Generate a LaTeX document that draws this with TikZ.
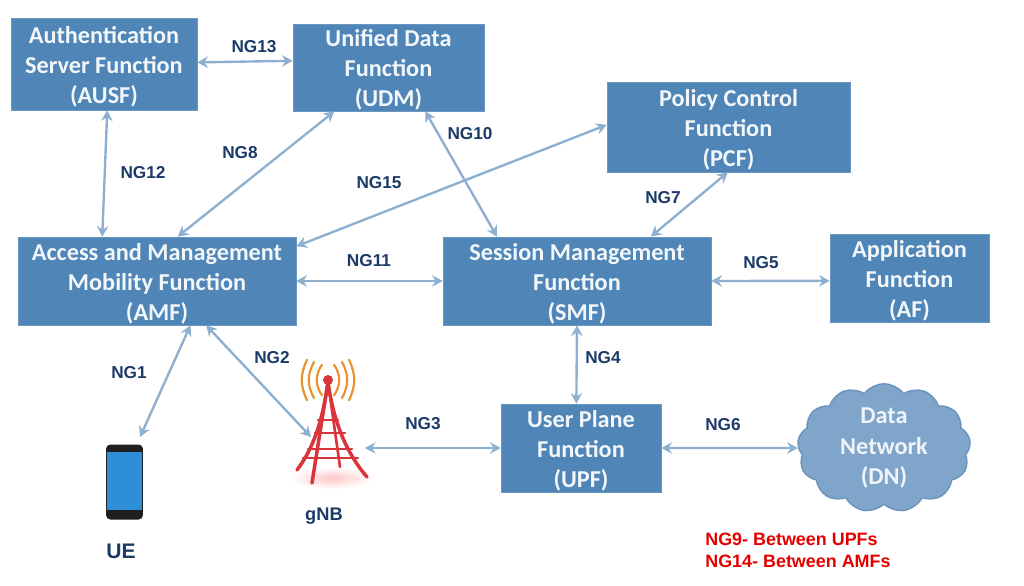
\documentclass[tikz,border=0pt]{standalone}
\usepackage{fontspec}
\setmainfont{Carlito}
\newfontfamily\labelfont{Liberation Sans}
\usetikzlibrary{arrows.meta,shapes.symbols}
\definecolor{boxblue}{HTML}{4F85B7}
\definecolor{linkblue}{HTML}{8DB0D0}
\definecolor{labelblue}{HTML}{1B3A68}
\definecolor{cloudblue}{HTML}{7FA5CB}
\definecolor{cloudline}{HTML}{6B94BC}
\definecolor{towerred}{HTML}{D9343C}
\definecolor{waveorange}{HTML}{E8922E}
\definecolor{screenblue}{HTML}{2E8FD8}
\newcommand{\topgap}{\rule{0pt}{12.4pt}}
\tikzset{
    nf/.style={fill=boxblue, draw=boxblue!85!white, line width=0.4pt, text=white!93!boxblue, align=center,
        inner sep=0pt, font=\bfseries\fontsize{13.8}{17.1}\selectfont},
    link/.style={draw=linkblue, line width=1.35pt, {Stealth[length=6pt,width=6.5pt]}-{Stealth[length=6pt,width=6.5pt]}},
    ng/.style={text=labelblue, font=\labelfont\bfseries\fontsize{9.8}{11}\selectfont},
    note/.style={text=red!90!black, anchor=west, font=\labelfont\bfseries\fontsize{10.2}{12}\selectfont},
    mast/.style={draw=towerred, line width=2pt, line cap=round},
    wave/.style={draw=waveorange, line width=1.2pt, line cap=round},
}
\begin{document}
\begin{tikzpicture}[x=0.02cm, y=-0.02cm]
    \useasboundingbox (0,0) rectangle (1024,585);
    % boxes
    \node[nf, minimum width=3.72cm, minimum height=1.84cm] (ausf) at (104,64) {\topgap Authentication\\Server Function\\(AUSF)};
    \node[nf, minimum width=3.82cm, minimum height=1.74cm] (udm) at (388.5,67.5) {\topgap Unified Data\\Function\\(UDM)};
    \node[nf, minimum width=4.86cm, minimum height=1.80cm] (pcf) at (728.5,127) {\topgap Policy Control\\Function\\(PCF)};
    \node[nf, minimum width=5.56cm, minimum height=1.76cm] (amf) at (157,281) {\topgap Access and Management\\Mobility Function\\(AMF)};
    \node[nf, minimum width=5.36cm, minimum height=1.76cm] (smf) at (577,281) {\topgap Session Management\\Function\\(SMF)};
    \node[nf, minimum width=3.18cm, minimum height=1.76cm] (af) at (909.5,278) {\topgap Application\\Function\\(AF)};
    \node[nf, minimum width=3.20cm, minimum height=1.76cm] (upf) at (581,448) {\topgap User Plane\\Function\\(UPF)};
    \node[cloud, cloud puffs=13, cloud puff arc=105, aspect=1.45, fill=cloudblue, draw=cloudline, line width=0.8pt,
        minimum width=3.46cm, minimum height=2.4cm, inner sep=0pt, align=center, text=white!88!cloudblue,
        font=\bfseries\fontsize{13.8}{17.1}\selectfont] (dn) at (884,448) {Data\\Network\\(DN)};
    % phone
    \node[fill=black!88, rounded corners=2.5pt, minimum width=0.74cm, minimum height=1.50cm, inner sep=0pt] (ue) at (124.5,482) {};
    \node[fill=screenblue, minimum width=0.70cm, minimum height=1.16cm, inner sep=0pt] (uescreen) at (124.5,481) {};
    \node[text=labelblue, font=\labelfont\bfseries\fontsize{12}{14}\selectfont] (uelabel) at (121,551) {UE};
    % tower
    \shade[inner color=red!22, outer color=white] (332,478) ellipse (42 and 11);
    \draw[mast] (328,382) .. controls (322,425) and (312,450) .. (297,470);
    \draw[mast] (328,382) .. controls (334,425) and (348,455) .. (367,477);
    \draw[mast] (328,382) -- (312,483);
    \draw[mast, line width=1.5pt] (328,382) -- (340,467);
    \foreach \yy/\xa/\xb in {420/318/338, 433/315/345, 449/308/352, 458/303/358}
        \draw[mast, line width=1.5pt] (\xa,\yy) -- (\xb,\yy);
    \fill[towerred] (328,380) circle (5);
    \foreach \dd in {10,18,25} {
        \draw[wave] (328-\dd+4,380-12-\dd/3) .. controls (328-\dd-3,380-5) and (328-\dd-3,380+5) .. (328-\dd+4,380+12+\dd/3);
        \draw[wave] (328+\dd-4,380-12-\dd/3) .. controls (328+\dd+3,380-5) and (328+\dd+3,380+5) .. (328+\dd-4,380+12+\dd/3);
    }
    \node[ng, font=\labelfont\bfseries\fontsize{10.4}{12}\selectfont] (gnblabel) at (324,516) {gNB};
    \coordinate (uetop) at (140,437);
    \coordinate (gnbtop) at (311,437);
    \coordinate (gnbeast) at (365,448);
    % links
    \draw[link] (ausf.1) -- (udm.176.7);
    \draw[link] (ausf.-86) -- (amf.141.3);
    \draw[link] (udm.219.1) -- (amf.65.6);
    \draw[link] (udm.-50) -- (smf.151.8);
    \draw[link] (pcf.179.1) -- (amf.14.5);
    \draw[link] (pcf.-91.9) -- (smf.31.1);
    \draw[link] (amf.east) -- (smf.west);
    \draw[link] (smf.east) -- (af.182.2);
    \draw[link] (smf.south) -- (upf.96.5);
    \draw[link] (amf.-53.1) -- (uetop);
    \draw[link] (amf.-42.5) -- (gnbtop);
    \draw[link] (gnbeast) -- (upf.west);
    \draw[link] (upf.east) -- (dn.west);
    % labels
    \node[ng] (ng13) at (254,47) {NG13};
    \node[ng] (ng8) at (240,153) {NG8};
    \node[ng] (ng12) at (143,173) {NG12};
    \node[ng] (ng10) at (470,134) {NG10};
    \node[ng] (ng15) at (379,183) {NG15};
    \node[ng] (ng7) at (663,198) {NG7};
    \node[ng] (ng11) at (369,261) {NG11};
    \node[ng] (ng5) at (761,263) {NG5};
    \node[ng] (ng4) at (603,358) {NG4};
    \node[ng] (ng1) at (129,373) {NG1};
    \node[ng] (ng2) at (272,358) {NG2};
    \node[ng] (ng3) at (423,424) {NG3};
    \node[ng] (ng6) at (723,425) {NG6};
    \node[note, inner sep=0pt] (ng9note) at (705,539) {NG9- Between UPFs};
    \node[note, inner sep=0pt] (ng14note) at (705,561) {NG14- Between AMFs};
\end{tikzpicture}
\end{document}
